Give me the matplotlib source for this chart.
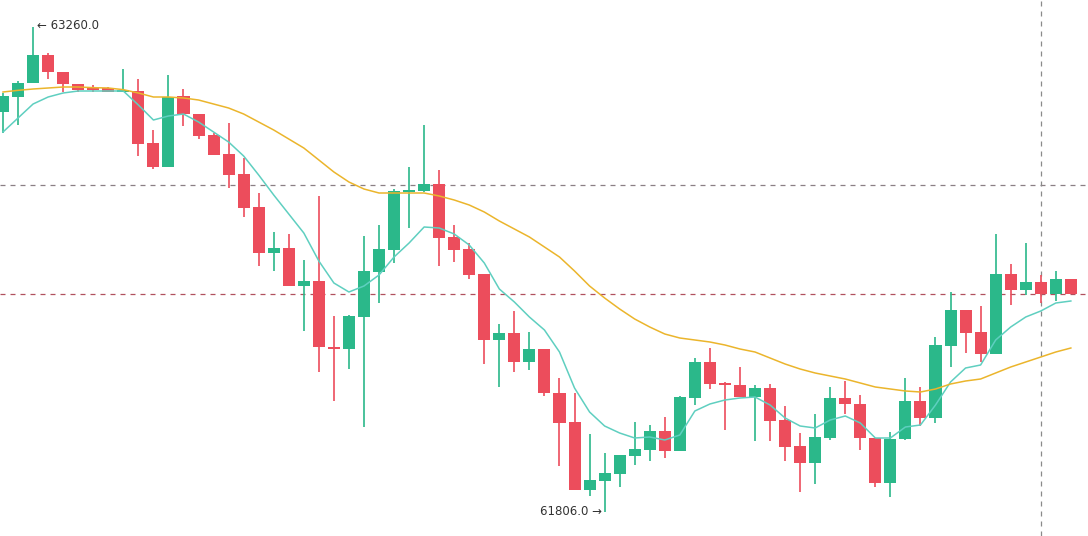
import numpy as np
import matplotlib
matplotlib.use('Agg')
import matplotlib.pyplot as plt

# OHLC
opens = [63005, 63050, 63092, 63176, 63125, 63089, 63077, 63077, 63066, 63068,
         62912, 62840, 63053, 62999, 62936, 62879, 62819, 62720, 62582, 62597,
         62483, 62498, 62300, 62294, 62390, 62525, 62591, 62765, 62768, 62789,
         62630, 62594, 62519, 62321, 62342, 62255, 62294, 62162, 62075, 61871,
         61898, 61919, 61973, 61991, 62048, 61988, 62147, 62255, 62192, 62186,
         62150, 62177, 62081, 62003, 61952, 62027, 62147, 62129, 62027, 61892,
         62024, 62138, 62087, 62303, 62411, 62345, 62279, 62519, 62471, 62495,
         62459, 62504]
highs = [63062, 63098, 63260, 63182, 63125, 63089, 63086, 63080, 63134, 63104,
         62951, 63116, 63074, 62999, 62942, 62972, 62867, 62762, 62645, 62639,
         62561, 62753, 62393, 62396, 62633, 62666, 62774, 62840, 62966, 62831,
         62666, 62612, 62519, 62369, 62408, 62345, 62294, 62207, 62162, 62039,
         61982, 61976, 62075, 62066, 62090, 62153, 62267, 62297, 62195, 62240,
         62186, 62189, 62123, 62042, 62099, 62180, 62198, 62156, 62027, 62045,
         62207, 62180, 62330, 62465, 62411, 62423, 62639, 62549, 62612, 62516,
         62528, 62504]
lows = [62942, 62966, 63092, 63104, 63065, 63065, 63065, 63065, 63065, 62873,
        62834, 62840, 62963, 62924, 62876, 62777, 62690, 62543, 62528, 62483,
        62348, 62225, 62138, 62234, 62060, 62432, 62552, 62657, 62765, 62543,
        62555, 62504, 62249, 62180, 62225, 62231, 62153, 61943, 61871, 61853,
        61806, 61880, 61946, 61958, 61967, 61988, 62126, 62174, 62051, 62150,
        62018, 62018, 61958, 61865, 61889, 62021, 62099, 61991, 61880, 61850,
        62021, 62063, 62072, 62240, 62282, 62255, 62279, 62426, 62456, 62432,
        62438, 62459]
closes = [63053, 63092, 63176, 63125, 63089, 63071, 63072, 63065, 63071, 62909,
          62840, 63050, 62999, 62933, 62876, 62816, 62717, 62582, 62597, 62483,
          62498, 62300, 62294, 62393, 62528, 62594, 62768, 62771, 62789, 62627,
          62591, 62516, 62321, 62342, 62255, 62294, 62162, 62072, 61871, 61901,
          61922, 61976, 61994, 62048, 61988, 62150, 62255, 62189, 62186, 62150,
          62177, 62078, 62000, 61952, 62030, 62147, 62129, 62027, 61892, 62024,
          62138, 62087, 62306, 62411, 62342, 62279, 62519, 62471, 62495, 62459,
          62504, 62459]

# moving average lines
ma_fast = [62945, 62987, 63029, 63050, 63062, 63068, 63068, 63068, 63068, 63026,
           62981, 62993, 62999, 62975, 62945, 62915, 62873, 62816, 62756, 62699,
           62642, 62558, 62492, 62465, 62483, 62516, 62570, 62612, 62660, 62657,
           62639, 62606, 62552, 62474, 62435, 62390, 62351, 62285, 62177, 62105,
           62063, 62042, 62027, 62030, 62021, 62036, 62108, 62129, 62141, 62147,
           62150, 62126, 62087, 62063, 62057, 62081, 62093, 62072, 62027, 62027,
           62060, 62066, 62126, 62195, 62237, 62246, 62321, 62360, 62390, 62408,
           62432, 62438]
ma_slow = [63065, 63070, 63074, 63077, 63080, 63080, 63078, 63077, 63072, 63062,
           63050, 63050, 63047, 63041, 63029, 63017, 62999, 62975, 62951, 62924,
           62897, 62861, 62825, 62795, 62774, 62762, 62762, 62762, 62762, 62753,
           62741, 62726, 62705, 62678, 62654, 62630, 62600, 62570, 62528, 62483,
           62447, 62414, 62384, 62360, 62339, 62327, 62321, 62315, 62306, 62294,
           62285, 62267, 62249, 62234, 62222, 62213, 62204, 62192, 62180, 62174,
           62168, 62165, 62174, 62189, 62198, 62204, 62222, 62240, 62255, 62270,
           62285, 62297]

cross_price = 62786
cross_index = 69

UP = '#2bb88a'
DOWN = '#ec4d5c'

fig = plt.figure(figsize=(10.88, 5.36), dpi=100)
ax = fig.add_axes([0, 0, 1, 1])

x = np.arange(len(opens))
for i in x:
    o, h, l, c = opens[i], highs[i], lows[i], closes[i]
    col = UP if c >= o else DOWN
    ax.vlines(i, l, h, color=col, lw=1.2, zorder=2)
    bottom = min(o, c)
    height = max(abs(c - o), 4)
    ax.bar(i, height, bottom=bottom, width=0.8, color=col, edgecolor=col,
           lw=0, zorder=3)

ax.plot(x, ma_fast, color='#5fcfc0', lw=1.1, zorder=4)
ax.plot(x, ma_slow, color='#ebb52c', lw=1.1, zorder=4)

# last price and crosshair lines
ax.axhline(closes[-1], color='#b0505e', lw=0.9, ls=(0, (4, 4)), zorder=1)
ax.axhline(cross_price, color='#8a7f84', lw=0.9, ls=(0, (4, 4)), zorder=1)
ax.axvline(cross_index, color='#8a8a8a', lw=0.9, ls=(0, (4, 4)), zorder=1)

imax = int(np.argmax(highs))
imin = int(np.argmin(lows))
ax.annotate('\u2190 %.1f' % highs[imax], xy=(imax, highs[imax]), xytext=(3, 1),
            textcoords='offset points', ha='left', va='center',
            fontsize=8.5, color='#333333')
ax.annotate('%.1f \u2192' % lows[imin], xy=(imin, lows[imin]), xytext=(-2, 0),
            textcoords='offset points', ha='right', va='center',
            fontsize=8.5, color='#333333')

ax.set_xlim(-0.2, 72.14)
ax.set_ylim(61733, 63341)
ax.axis('off')

fig.savefig('out.png', dpi=100, facecolor='white')
